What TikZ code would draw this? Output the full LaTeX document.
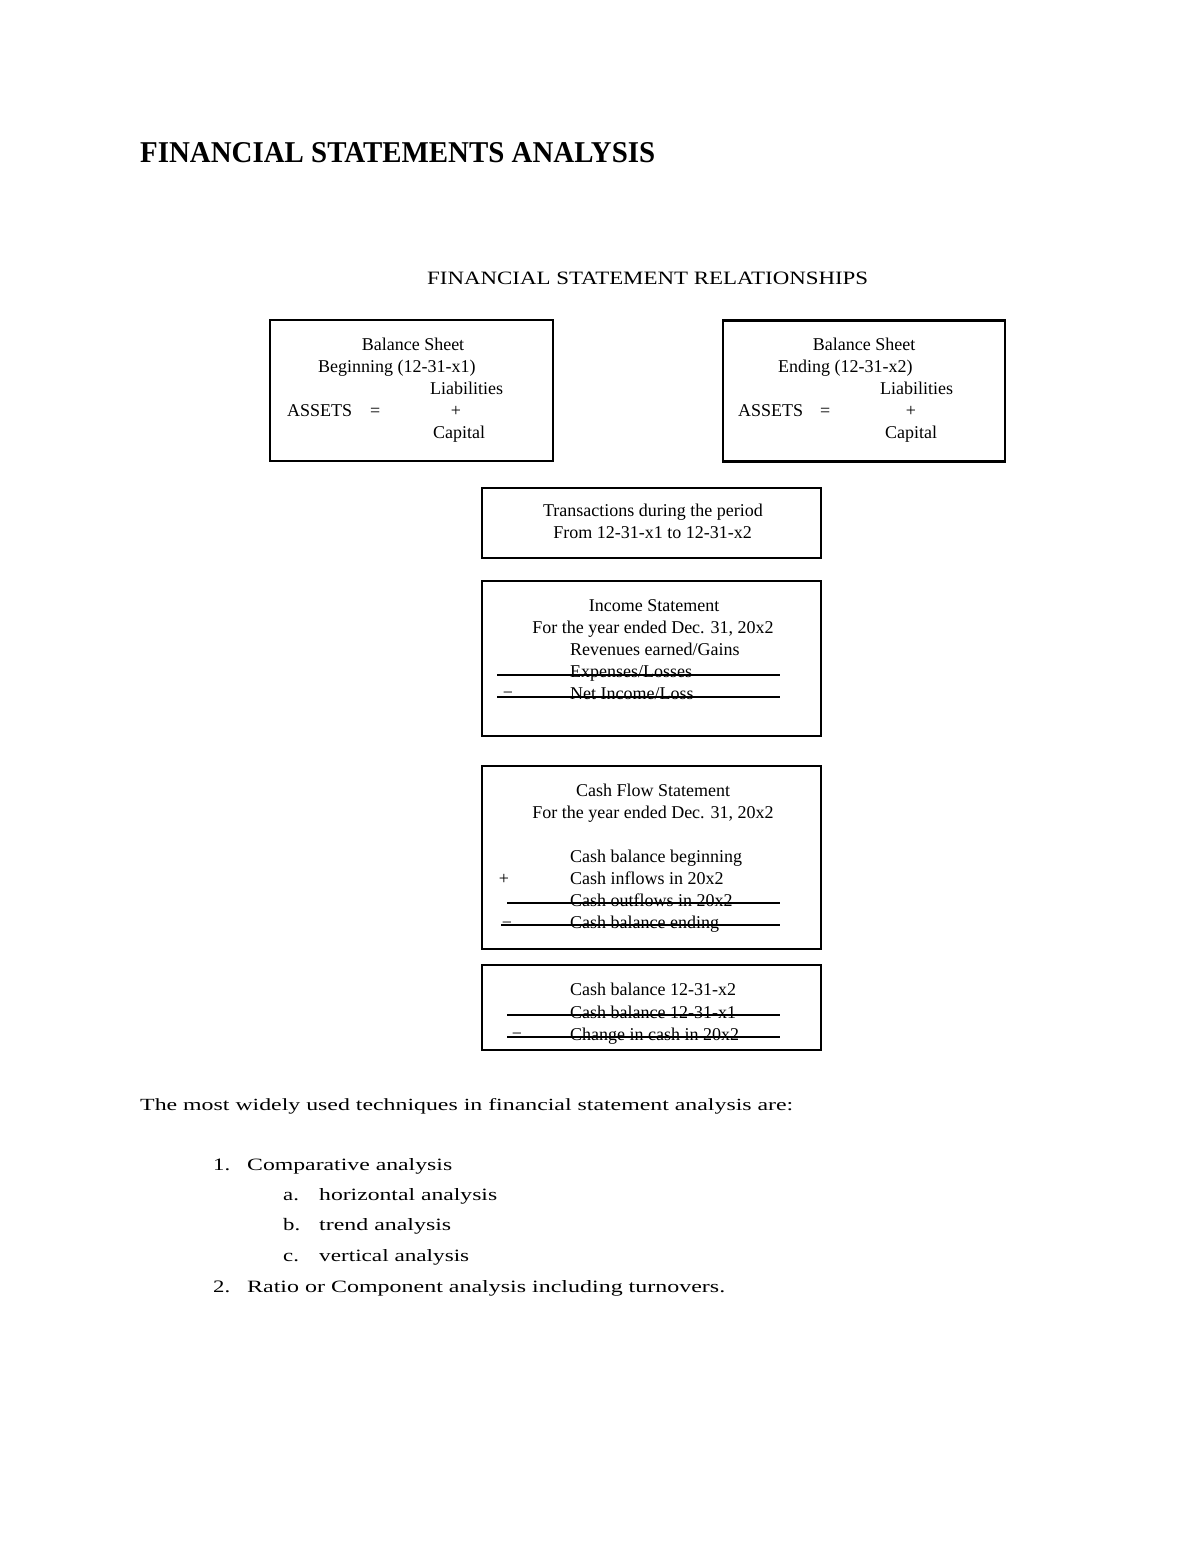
\documentclass[tikz,border=0pt]{standalone}
\usepackage{fontspec}
\usepackage{graphicx}
\setmainfont{Liberation Serif}
\begin{document}
\begin{tikzpicture}[x=1pt,y=-1pt,
  frame/.style={draw, line width=2.8pt, inner sep=0pt},
  txt/.style={inner sep=0pt, anchor=base, font=\fontsize{18}{22}\selectfont},
  txtl/.style={inner sep=0pt, anchor=base west, font=\fontsize{18}{22}\selectfont},
  bl/.style={inner sep=0pt, anchor=base west, font=\fontsize{17.5}{20}\selectfont},
  strike/.style={line width=2.6pt}]
\fill[white] (0,0) rectangle (1200,1553);
\useasboundingbox (0,0) rectangle (1200,1553);

% title and heading
\node[anchor=base west, inner sep=0pt] (title) at (140,162)
  {\resizebox{515pt}{20pt}{\bfseries FINANCIAL STATEMENTS ANALYSIS}};
\node[anchor=base west, inner sep=0pt] (heading) at (427,284)
  {\resizebox{441pt}{12.5pt}{FINANCIAL STATEMENT RELATIONSHIPS}};

% boxes
\node[frame, minimum width=283pt, minimum height=141pt] (bsb) at (411.5,390.5) {};
\node[frame, minimum width=282pt, minimum height=141pt] (bse) at (864,391) {};
\node[frame, minimum width=339pt, minimum height=70pt] (trn) at (651.5,523) {};
\node[frame, minimum width=339pt, minimum height=155pt] (inc) at (651.5,658.5) {};
\node[frame, minimum width=339pt, minimum height=183pt] (cfs) at (651.5,857.5) {};
\node[frame, minimum width=339pt, minimum height=85pt] (chg) at (651.5,1007.5) {};

% balance sheet beginning
\node[txt] (b1a) at (413,350) {Balance Sheet};
\node[txtl] (b1b) at (318,372) {Beginning (12-31-x1)};
\node[txtl] (b1c) at (430,394) {Liabilities};
\node[txtl] (b1d) at (287,416) {ASSETS};
\node[txtl] (b1e) at (370,416) {=};
\node[txt] (b1f) at (456,416) {+};
\node[txtl] (b1g) at (433,438) {Capital};

% balance sheet ending
\node[txt] (b2a) at (864,350) {Balance Sheet};
\node[txtl] (b2b) at (778,372) {Ending (12-31-x2)};
\node[txtl] (b2c) at (880,394) {Liabilities};
\node[txtl] (b2d) at (738,416) {ASSETS};
\node[txtl] (b2e) at (820,416) {=};
\node[txt] (b2f) at (911,416) {+};
\node[txtl] (b2g) at (885,438) {Capital};

% transactions
\node[txt] (t1) at (653,516) {Transactions during the period};
\node[txt] (t2) at (652.5,538) {From 12-31-x1 to 12-31-x2};

% income statement
\node[txt] (i1) at (654,611) {Income Statement};
\node[txt] (i2) at (653,633) {For the year ended Dec. 31, 20x2};
\node[txtl] (i3) at (570,655) {Revenues earned/Gains};
\node[txtl] (i4) at (570,677) {Expenses/Losses};
\node[txt] (i5m) at (508,698) {−};
\node[txtl] (i5) at (570,699) {Net Income/Loss};
\coordinate (s1a) at (497,675); \coordinate (s1b) at (780,675);
\coordinate (s2a) at (497,697); \coordinate (s2b) at (780,697);
\draw[strike] (s1a) -- (s1b);
\draw[strike] (s2a) -- (s2b);

% cash flow statement
\node[txt] (c1) at (653,796) {Cash Flow Statement};
\node[txt] (c2) at (653,818) {For the year ended Dec. 31, 20x2};
\node[txtl] (c3) at (570,862) {Cash balance beginning};
\node[txt] (c4p) at (504,884) {+};
\node[txtl] (c4) at (570,884) {Cash inflows in 20x2};
\node[txtl] (c5) at (570,906) {Cash outflows in 20x2};
\node[txt] (c6m) at (507,928) {−};
\node[txtl] (c6) at (570,928) {Cash balance ending};
\coordinate (s3a) at (507,903); \coordinate (s3b) at (780,903);
\coordinate (s4a) at (501,925); \coordinate (s4b) at (780,925);
\draw[strike] (s3a) -- (s3b);
\draw[strike] (s4a) -- (s4b);

% change in cash
\node[txtl] (d1) at (570,995) {Cash balance 12-31-x2};
\node[txtl] (d2) at (570,1018) {Cash balance 12-31-x1};
\node[txt] (d3m) at (517,1039) {−};
\node[txtl] (d3) at (570,1040) {Change in cash in 20x2};
\coordinate (s5a) at (507,1015); \coordinate (s5b) at (780,1015);
\coordinate (s6a) at (507,1037); \coordinate (s6b) at (780,1037);
\draw[strike] (s5a) -- (s5b);
\draw[strike] (s6a) -- (s6b);

% bottom text
\node[bl] (intro) at (140,1110) {\resizebox{653pt}{12pt}{The most widely used techniques in financial statement analysis are:}};
\node[bl] (n1) at (213,1170) {\scalebox{1.3}[1]{1.}};
\node[bl] (l1) at (247,1170) {\resizebox{205pt}{12pt}{Comparative analysis}};
\node[bl] (na) at (283,1200) {\scalebox{1.3}[1]{a.}};
\node[bl] (la) at (319,1200) {\resizebox{178pt}{12pt}{horizontal analysis}};
\node[bl] (nb) at (283,1230) {\scalebox{1.3}[1]{b.}};
\node[bl] (lb) at (319,1230) {\resizebox{132pt}{12pt}{trend analysis}};
\node[bl] (nc) at (283,1261) {\scalebox{1.3}[1]{c.}};
\node[bl] (lc) at (319,1261) {\resizebox{150pt}{12pt}{vertical analysis}};
\node[bl] (n2) at (213,1292) {\scalebox{1.3}[1]{2.}};
\node[bl] (l2) at (247,1292) {\resizebox{478pt}{12pt}{Ratio or Component analysis including turnovers.}};
\end{tikzpicture}
\end{document}
